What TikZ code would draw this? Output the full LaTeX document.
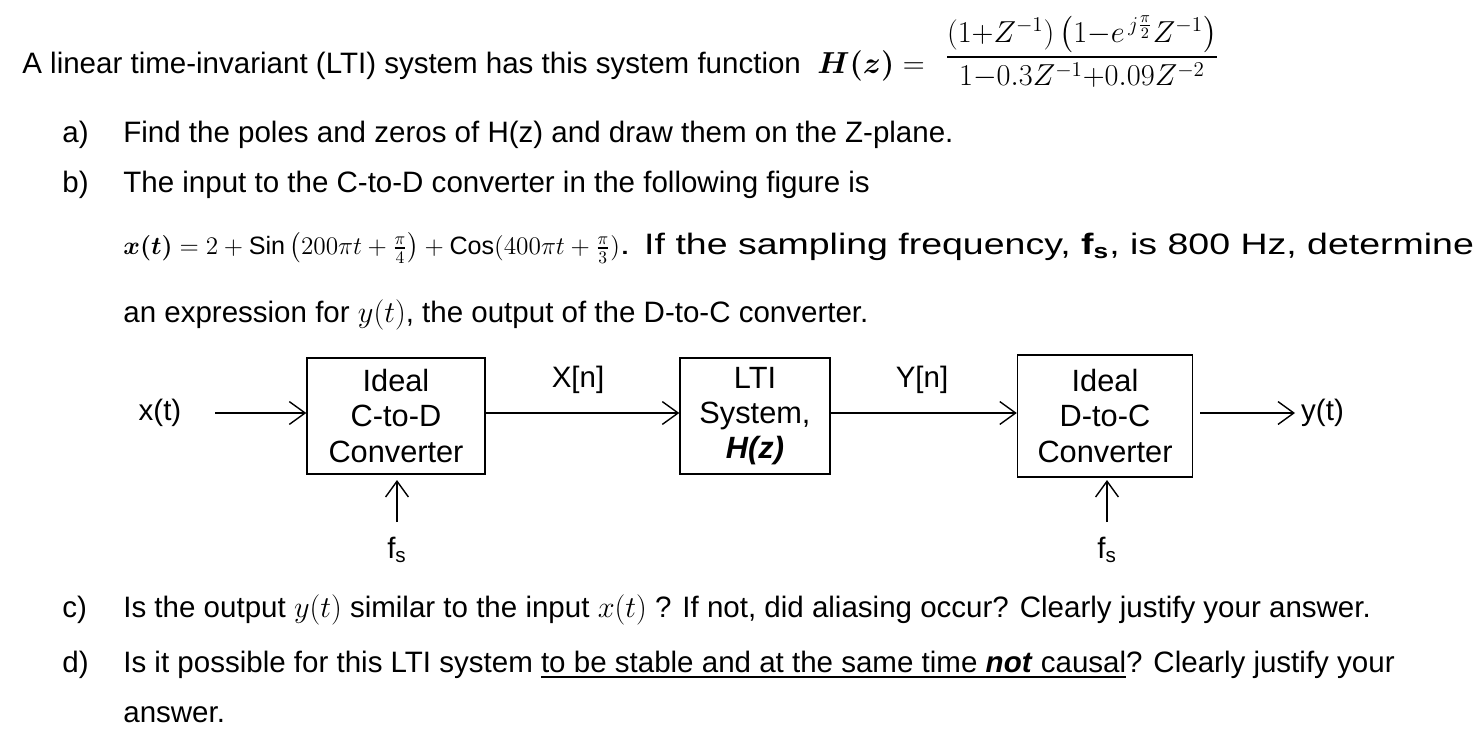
\documentclass[tikz,border=0pt]{standalone}
\usepackage{amsmath}
\usepackage{graphicx}
\usepackage{fontspec}
\setmainfont{Liberation Sans}
\usetikzlibrary{arrows.meta}
\begin{document}
\begin{tikzpicture}[x=0.02cm,y=-0.02cm,font=\fontsize{16.8}{20}\selectfont]
            \tikzstyle{myTxt}=[anchor=west,inner sep=0pt];
            \tikzstyle{myBox}=[draw,thick,align=center,inner sep=0pt,font=\fontsize{17.5}{20}\selectfont];
            \tikzstyle{myArr}=[-{Straight Barb[length=9pt,width=13pt]},thick];
            \useasboundingbox (0,0) rectangle (1484,750);
            \node[myTxt] (q) at (22,66) {A linear time-invariant (LTI) system has this system function \ $\boldsymbol{H(z)}=$};
            \node[font=\fontsize{18}{22}\selectfont] (hz) at (1082,52) {$\dfrac{(1{+}Z^{-1})\left(1{-}e^{\,j\frac{\pi}{2}}Z^{-1}\right)}{1{-}0.3Z^{-1}{+}0.09Z^{-2}}$};
            \node[myTxt] (la) at (62,135) {a)};
            \node[myTxt] (ta) at (123,135) {Find the poles and zeros of H(z) and draw them on the Z-plane.};
            \node[myTxt] (lb) at (62,185) {b)};
            \node[myTxt] (tb) at (123,185) {The input to the C-to-D converter in the following figure is};
            \node[myTxt] (xt) at (123,248) {{\fontsize{14.3}{17}\selectfont$\boldsymbol{x(t)}=2+\mathrm{Sin}\left(200\pi t+\frac{\pi}{4}\right)+\mathrm{Cos}(400\pi t+\frac{\pi}{3})$}\scalebox{1.27}[1]{. If the sampling frequency, \textbf{f\textsubscript{s}}, is 800 Hz, determine}};
            \node[myTxt] (te) at (123,315) {an expression for $y(t)$, the output of the D-to-C converter.};
            % block diagram
            \node[myBox,minimum width=178*0.02cm,minimum height=116*0.02cm] (cd) at (396,416) {Ideal\\C-to-D\\Converter};
            \node[myBox,minimum width=150*0.02cm,minimum height=116*0.02cm] (lti) at (755,416) {LTI\\System,\\\textbf{\textit{H(z)}}};
            \node[myBox,minimum width=175*0.02cm,minimum height=122*0.02cm] (dc) at (1105,416) {Ideal\\D-to-C\\Converter};
            \node (in) at (160,413) {x(t)};
            \node[anchor=west] (out) at (1295,413) {y(t)};
            \node (xn) at (578,380) {X[n]};
            \node (yn) at (922,380) {Y[n]};
            \node (fs1) at (397,550) {f\textsubscript{s}};
            \node (fs2) at (1107,550) {f\textsubscript{s}};
            \coordinate (a1) at (215,413);
            \coordinate (b1) at (1200,413);
            \coordinate (u1) at (397,522);
            \coordinate (u2) at (1107,522);
            \draw[myArr] (a1) -- (cd.west|-a1);
            \draw[myArr] (cd.east|-a1) -- (lti.west|-a1);
            \draw[myArr] (lti.east|-a1) -- (dc.west|-a1);
            \draw[myArr] (b1) -- (out.west);
            \draw[myArr] (u1) -- ++(0,-42);
            \draw[myArr] (u2) -- ++(0,-42);
            \node[myTxt] (lc) at (62,610) {c)};
            \node[myTxt] (tc) at (123,610) {Is the output $y(t)$ similar to the input $x(t)$ ? If not, did aliasing occur? Clearly justify your answer.};
            \node[myTxt] (ld) at (62,665) {d)};
            \node[myTxt] (td) at (123,665) {Is it possible for this LTI system \underline{to be stable and at the same time \textbf{\textit{not}} causal}? Clearly justify your};
            \node[myTxt] (tz) at (123,715) {answer.};
         \end{tikzpicture}
\end{document}
